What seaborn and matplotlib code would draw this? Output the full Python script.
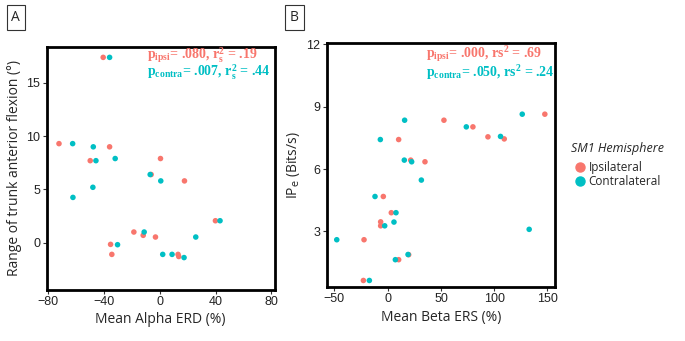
import pandas as pd
import matplotlib
matplotlib.use("Agg")
import matplotlib.pyplot as plt
import seaborn as sns

sns.set_theme(style="white")
plt.rcParams["font.family"] = ["Liberation Sans", "DejaVu Sans"]
plt.rcParams["mathtext.fontset"] = "custom"
plt.rcParams["mathtext.rm"] = "Liberation Serif:bold"
plt.rcParams["mathtext.it"] = "Liberation Serif:bold"
plt.rcParams["mathtext.bf"] = "Liberation Serif:bold"

# panel A: mean alpha ERD (%) vs range of trunk anterior flexion
alpha_ipsi_x = [-40.6, -72.3, -49.9, -36.0, 0.5, -6.2, 17.7, 39.9, -18.6, -11.9, -3.1, -35.3, -34.4, 13.1, 13.6]
alpha_ipsi_y = [17.4, 9.3, 7.7, 9.0, 7.9, 6.4, 5.8, 2.06, 1.0, 0.69, 0.53, -0.16, -1.1, -1.1, -1.3]
alpha_contra_x = [-36.0, -62.5, -47.7, -45.8, -32.0, -6.9, 0.7, -48.0, -62.3, 43.2, -11.2, 25.8, -30.3, 2.1, 8.8, 17.4]
alpha_contra_y = [17.4, 9.3, 9.0, 7.7, 7.9, 6.4, 5.8, 5.2, 4.25, 2.06, 1.0, 0.53, -0.19, -1.1, -1.1, -1.4]

# panel B: mean beta ERS (%) vs IPe
beta_ipsi_x = [-22.8, -22.2, 10.3, 19.7, -6.6, -6.6, 3.4, -4.1, 21.6, 35.0, 10.3, 52.8, 80.0, 94.1, 109.4, 147.5]
beta_ipsi_y = [0.64, 2.6, 1.64, 1.88, 3.27, 3.46, 3.9, 4.68, 6.43, 6.35, 7.42, 8.35, 8.03, 7.55, 7.45, 8.64]
beta_contra_x = [-47.8, -17.2, 7.2, 19.1, -2.8, 5.9, 7.8, -11.9, -6.9, 15.9, 15.6, 22.5, 31.6, 73.8, 105.9, 126.3, 132.8]
beta_contra_y = [2.6, 0.64, 1.64, 1.89, 3.27, 3.45, 3.9, 4.68, 7.42, 8.35, 6.43, 6.35, 5.47, 8.03, 7.57, 8.64, 3.1]

groups = ["Ipsilateral", "Contralateral"]
colors = {"Ipsilateral": "#F8766D", "Contralateral": "#00BFC4"}


def make_df(ix, iy, cx, cy):
    return pd.DataFrame({
        "x": ix + cx,
        "y": iy + cy,
        "side": [groups[0]] * len(ix) + [groups[1]] * len(cx),
    })


df_a = make_df(alpha_ipsi_x, alpha_ipsi_y, alpha_contra_x, alpha_contra_y)
df_b = make_df(beta_ipsi_x, beta_ipsi_y, beta_contra_x, beta_contra_y)

fig = plt.figure(figsize=(6.85, 3.41), dpi=100)
ax_a = fig.add_axes([0.068, 0.150, 0.333, 0.713])
ax_b = fig.add_axes([0.477, 0.158, 0.333, 0.715])

for ax, df in [(ax_a, df_a), (ax_b, df_b)]:
    sns.scatterplot(data=df, x="x", y="y", hue="side", hue_order=groups,
                    palette=colors, s=16, linewidth=0, ax=ax, legend=False)
    for sp in ax.spines.values():
        sp.set_color("black")
        sp.set_linewidth(2)
    ax.tick_params(axis="both", direction="out", length=3, width=0.8,
                   color="#333333", labelsize=9, labelcolor="#222222",
                   bottom=True, left=True, pad=1.5)

lab = dict(family="Open Sans", fontsize=10, labelpad=3)
ax_a.set_xlim(-81.2, 82.4)
ax_a.set_ylim(-4.43, 18.4)
ax_a.set_xticks([-80, -40, 0, 40, 80])
ax_a.set_yticks([0, 5, 10, 15])
ax_a.set_xlabel("Mean Alpha ERD (%)", **lab)
ax_a.set_ylabel("Range of trunk anterior flexion (°)", **lab)

ax_b.set_xlim(-57.2, 156.9)
ax_b.set_ylim(0.32, 12.05)
ax_b.set_xticks([-50, 0, 50, 100, 150])
ax_b.set_yticks([3, 6, 9, 12])
ax_b.set_xlabel("Mean Beta ERS (%)", **lab)
ax_b.set_ylabel(r"IP$_{\mathsf{e}}$ (Bits/s)", **lab)

ann = dict(fontsize=10, va="center", ha="left", family="Liberation Serif", weight="bold")
ax_a.text(0.44, 0.966, r"p$_{\mathrm{ipsi}}$= .080, r$_{\mathrm{s}}^{\mathrm{2}}$ = .19",
          transform=ax_a.transAxes, color=colors["Ipsilateral"], **ann)
ax_a.text(0.44, 0.893, r"p$_{\mathrm{contra}}$= .007, r$_{\mathrm{s}}^{\mathrm{2}}$ = .44",
          transform=ax_a.transAxes, color=colors["Contralateral"], **ann)
ax_b.text(0.435, 0.956, r"p$_{\mathrm{ipsi}}$= .000, rs$^{\mathrm{2}}$ = .69",
          transform=ax_b.transAxes, color=colors["Ipsilateral"], **ann)
ax_b.text(0.435, 0.882, r"p$_{\mathrm{contra}}$= .050, rs$^{\mathrm{2}}$ = .24",
          transform=ax_b.transAxes, color=colors["Contralateral"], **ann)

# panel letters in boxes
box = dict(boxstyle="square,pad=0.35", fc="white", ec="#333333", lw=0.8)
fig.text(0.023, 0.948, "A", fontsize=10, ha="center", va="center", bbox=box, family="Open Sans")
fig.text(0.430, 0.948, "B", fontsize=10, ha="center", va="center", bbox=box, family="Open Sans")

# legend
handles = [plt.Line2D([], [], marker="o", ls="", markersize=6.5, color=colors[g]) for g in groups]
leg = fig.legend(handles, groups, loc="upper left", bbox_to_anchor=(0.825, 0.60),
                 frameon=False, handletextpad=0.0, labelspacing=0.1, handlelength=1.5,
                 borderpad=0.0, title="SM1 Hemisphere", alignment="left",
                 prop={"family": "Open Sans", "size": 8.5})
leg.get_title().set_fontstyle("italic")
leg.get_title().set_family("Open Sans")
leg.get_title().set_fontsize(9)
leg._legend_box.sep = 4

fig.savefig("out.png", dpi=100)
